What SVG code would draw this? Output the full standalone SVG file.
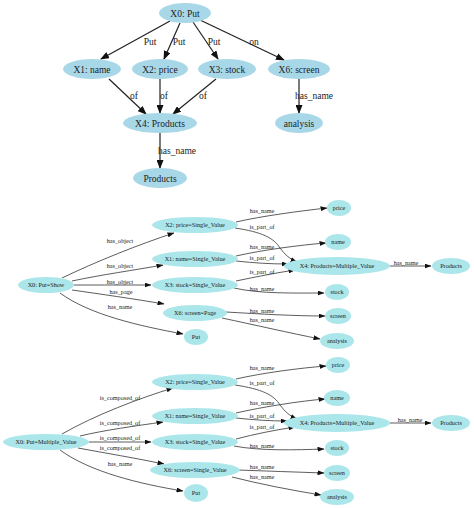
<svg xmlns="http://www.w3.org/2000/svg" width="474" height="508" viewBox="0 0 474 508">
<defs>
<marker id="a1" markerUnits="userSpaceOnUse" markerWidth="9" markerHeight="7" refX="8" refY="3.5" orient="auto"><path d="M0,0 L9,3.5 L0,7 z" fill="#111"/></marker>
<marker id="a2" markerUnits="userSpaceOnUse" markerWidth="7" markerHeight="5" refX="6.5" refY="2.5" orient="auto"><path d="M0,0 L7,2.5 L0,5 z" fill="#111"/></marker>
<style>
.t1{fill:#a8d8e8}
.t2{fill:#aae6ea}
text{font-family:"Liberation Serif","Times New Roman",serif;fill:#222;text-anchor:middle}
.g1 text{font-size:9.5px}
.g2 text{font-size:6.2px}
.e1 path{fill:none;stroke:#222;stroke-width:1.2;marker-end:url(#a1)}
.e2 path{fill:none;stroke:#333;stroke-width:0.8;marker-end:url(#a2)}
</style>
</defs>
<rect width="474" height="508" fill="#fff"/>

<!-- Top graph -->
<g class="g1">
<g id="connectors-top" class="e1">
<path d="M170,21 L101,59"/>
<path d="M180,23 L164,59"/>
<path d="M193,22 L218,59"/>
<path d="M200,20 L284,60"/>
<path d="M109,79 L146,114"/>
<path d="M160,79 L160,113"/>
<path d="M216,79 L173,114"/>
<path d="M299,79 L299,113"/>
<path d="M160,133 L160,168"/>
</g>
<g id="connectors-top-labels">
<text x="150" y="45">Put</text>
<text x="179" y="45">Put</text>
<text x="214" y="45">Put</text>
<text x="254" y="45">on</text>
<text x="134" y="99">of</text>
<text x="164" y="99">of</text>
<text x="203" y="99">of</text>
<text x="314" y="99">has_name</text>
<text x="177" y="154">has_name</text>
</g>
<g id="t-x0"><ellipse class="t1" cx="185" cy="13" rx="26" ry="10"/><text x="185" y="16.5">X0: Put</text></g>
<g id="t-x1"><ellipse class="t1" cx="92" cy="69" rx="29" ry="10"/><text x="92" y="72.5">X1: name</text></g>
<g id="t-x2"><ellipse class="t1" cx="160" cy="69" rx="28" ry="10"/><text x="160" y="72.5">X2: price</text></g>
<g id="t-x3"><ellipse class="t1" cx="227" cy="69" rx="29" ry="10"/><text x="227" y="72.5">X3: stock</text></g>
<g id="t-x6"><ellipse class="t1" cx="299" cy="69" rx="31" ry="10"/><text x="299" y="72.5">X6: screen</text></g>
<g id="t-x4"><ellipse class="t1" cx="160" cy="123" rx="37" ry="10"/><text x="160" y="126.5">X4: Products</text></g>
<g id="t-analysis"><ellipse class="t1" cx="299" cy="123" rx="24" ry="10"/><text x="299" y="126.5">analysis</text></g>
<g id="t-products"><ellipse class="t1" cx="160" cy="178" rx="27" ry="10"/><text x="160" y="181.5">Products</text></g>
</g>

<!-- Middle graph -->
<g class="g2">
<g id="connectors-mid" class="e2">
<path d="M62,278 C95,262 140,244 174,233"/>
<path d="M72,281 C100,275 135,270 163,265"/>
<path d="M74,285 L151,285"/>
<path d="M72,290 C100,294 135,299 164,304"/>
<path d="M60,293 C90,315 140,326 183,334"/>
<path d="M236,222 C262,216 300,211 327,208"/>
<path d="M235,228 C262,232 274,238 280,248 Q287,258 297,262"/>
<path d="M236,256 C262,250 300,245 326,243"/>
<path d="M236,261 C255,263 270,264 288,264"/>
<path d="M236,281 C255,277 275,273 295,270"/>
<path d="M234,288 C260,294 295,293 324,293"/>
<path d="M226,312 C260,314 295,316 325,316"/>
<path d="M222,318 C255,325 290,333 320,339"/>
<path d="M390,266 L431,266"/>
</g>
<g id="connectors-mid-labels">
<text x="120" y="243">has_object</text>
<text x="120" y="268">has_object</text>
<text x="120" y="284">has_object</text>
<text x="121" y="294">has_page</text>
<text x="120" y="309">has_name</text>
<text x="262" y="213">has_name</text>
<text x="262" y="229">is_part_of</text>
<text x="262" y="249">has_name</text>
<text x="262" y="260">is_part_of</text>
<text x="262" y="274">is_part_of</text>
<text x="262" y="291">has_name</text>
<text x="262" y="313">has_name</text>
<text x="262" y="322">has_name</text>
<text x="406" y="265">has_name</text>
</g>
<g id="m-x0"><ellipse class="t2" cx="46" cy="285" rx="28" ry="8"/><text x="46" y="287">X0: Put=Show</text></g>
<g id="m-x2"><ellipse class="t2" cx="195" cy="225" rx="43" ry="8"/><text x="195" y="227">X2: price=Single_Value</text></g>
<g id="m-x1"><ellipse class="t2" cx="195" cy="259" rx="43" ry="8"/><text x="195" y="261">X1: name=Single_Value</text></g>
<g id="m-x3"><ellipse class="t2" cx="195" cy="285" rx="43" ry="8"/><text x="195" y="287">X3: stock=Single_Value</text></g>
<g id="m-x6"><ellipse class="t2" cx="195" cy="313" rx="32" ry="8"/><text x="195" y="315">X6: screen=Page</text></g>
<g id="m-put"><ellipse class="t2" cx="196" cy="337" rx="12" ry="8"/><text x="196" y="339">Put</text></g>
<g id="m-price"><ellipse class="t2" cx="339" cy="208" rx="12" ry="8"/><text x="339" y="210">price</text></g>
<g id="m-name"><ellipse class="t2" cx="338" cy="242" rx="13" ry="8"/><text x="338" y="244">name</text></g>
<g id="m-x4"><ellipse class="t2" cx="337" cy="266" rx="53" ry="9"/><text x="337" y="268">X4: Products=Multiple_Value</text></g>
<g id="m-products"><ellipse class="t2" cx="451" cy="266" rx="19" ry="8"/><text x="451" y="268">Products</text></g>
<g id="m-stock"><ellipse class="t2" cx="337" cy="292" rx="12" ry="8"/><text x="337" y="294">stock</text></g>
<g id="m-screen"><ellipse class="t2" cx="338" cy="316" rx="13" ry="8"/><text x="338" y="318">screen</text></g>
<g id="m-analysis"><ellipse class="t2" cx="337" cy="341" rx="17" ry="8"/><text x="337" y="343">analysis</text></g>
</g>

<!-- Bottom graph -->
<g class="g2">
<g id="connectors-bot" class="e2">
<path d="M62,434 C95,415 140,398 173,388"/>
<path d="M80,436 C105,430 135,426 163,422"/>
<path d="M89,442 L151,442"/>
<path d="M78,448 C105,453 135,458 164,464"/>
<path d="M60,450 C90,472 140,484 183,491"/>
<path d="M236,379 C262,373 300,368 326,366"/>
<path d="M235,385 C262,389 274,395 280,405 Q287,415 297,419"/>
<path d="M236,413 C262,407 300,401 325,399"/>
<path d="M236,418 C255,420 270,421 287,421"/>
<path d="M236,439 C255,434 275,430 295,427"/>
<path d="M234,446 C260,451 295,450 324,449"/>
<path d="M238,470 C265,471 295,472 324,473"/>
<path d="M232,477 C260,484 290,490 321,495"/>
<path d="M390,423 L431,423"/>
</g>
<g id="connectors-bot-labels">
<text x="120" y="400">is_composed_of</text>
<text x="120" y="425">is_composed_of</text>
<text x="120" y="440">is_composed_of</text>
<text x="120" y="450">is_composed_of</text>
<text x="120" y="466">has_name</text>
<text x="262" y="370">has_name</text>
<text x="262" y="385">is_part_of</text>
<text x="262" y="405">has_name</text>
<text x="262" y="418">is_part_of</text>
<text x="262" y="429">is_part_of</text>
<text x="262" y="448">has_name</text>
<text x="262" y="469">has_name</text>
<text x="262" y="479">has_name</text>
<text x="410" y="422">has_name</text>
</g>
<g id="b-x0"><ellipse class="t2" cx="46" cy="442" rx="43" ry="8"/><text x="46" y="444">X0: Put=Multiple_Value</text></g>
<g id="b-x2"><ellipse class="t2" cx="195" cy="382" rx="43" ry="8"/><text x="195" y="384">X2: price=Single_Value</text></g>
<g id="b-x1"><ellipse class="t2" cx="195" cy="416" rx="43" ry="8"/><text x="195" y="418">X1: name=Single_Value</text></g>
<g id="b-x3"><ellipse class="t2" cx="195" cy="442" rx="43" ry="8"/><text x="195" y="444">X3: stock=Single_Value</text></g>
<g id="b-x6"><ellipse class="t2" cx="195" cy="470" rx="45" ry="8"/><text x="195" y="472">X6: screen=Single_Value</text></g>
<g id="b-put"><ellipse class="t2" cx="196" cy="493" rx="12" ry="9"/><text x="196" y="495">Put</text></g>
<g id="b-price"><ellipse class="t2" cx="338" cy="365" rx="12" ry="8"/><text x="338" y="367">price</text></g>
<g id="b-name"><ellipse class="t2" cx="337" cy="398" rx="13" ry="8"/><text x="337" y="400">name</text></g>
<g id="b-x4"><ellipse class="t2" cx="337" cy="423" rx="53" ry="9"/><text x="337" y="425">X4: Products=Multiple_Value</text></g>
<g id="b-products"><ellipse class="t2" cx="451" cy="423" rx="19" ry="8"/><text x="451" y="425">Products</text></g>
<g id="b-stock"><ellipse class="t2" cx="337" cy="448" rx="12" ry="8"/><text x="337" y="450">stock</text></g>
<g id="b-screen"><ellipse class="t2" cx="337" cy="473" rx="13" ry="8"/><text x="337" y="475">screen</text></g>
<g id="b-analysis"><ellipse class="t2" cx="337" cy="497" rx="17" ry="8"/><text x="337" y="499">analysis</text></g>
</g>
</svg>
